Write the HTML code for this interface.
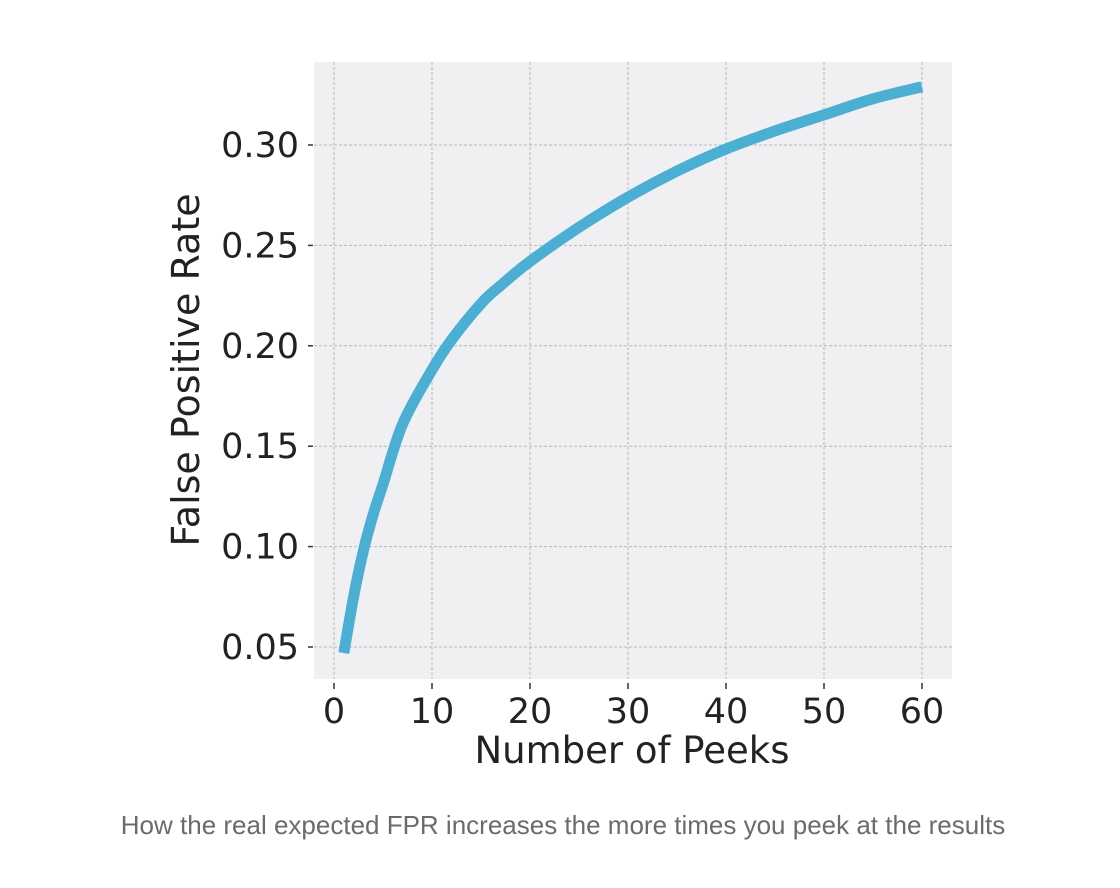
<!DOCTYPE html>
<html><head><meta charset="utf-8"><style>
body{margin:0;background:#fff;width:1120px;height:888px;overflow:hidden}
svg{display:block}
text{font-family:"DejaVu Sans","Liberation Sans",sans-serif;fill:#222}
</style></head><body>
<svg width="1120" height="888">
<rect x="314" y="62" width="638" height="617" fill="#f0f0f3"/>
<g id="grid"></g><g id="axes"></g>
<path id="line" fill="none" stroke="#4aafd2" stroke-width="11" stroke-linecap="butt" stroke-linejoin="round"/>
<text x="632" y="763" text-anchor="middle" font-size="37">Number of Peeks</text>
<text transform="translate(199,370) rotate(-90)" text-anchor="middle" font-size="38">False Positive Rate</text>
<text x="563" y="834" text-anchor="middle" font-size="26" style="font-family:'Liberation Sans',sans-serif;fill:#6b6b6b">How the real expected FPR increases the more times you peek at the results</text>
</svg>
<script>
const peeks=[1,2,3,4,5,7,10,12,15,17,20,25,30,35,40,45,50,55,60];
const fpr=[0.047,0.075,0.098,0.116,0.131,0.161,0.188,0.203,0.221,0.230,0.242,0.259,0.274,0.287,0.298,0.307,0.315,0.323,0.329];
const xTicks=[0,10,20,30,40,50,60];
const yTicks=[0.05,0.10,0.15,0.20,0.25,0.30];
const X=v=>334+v*9.8;
const Y=v=>647-(v-0.05)*2008;
const ns="http://www.w3.org/2000/svg";
const grid=document.getElementById('grid'),axes=document.getElementById('axes');
function mk(p,tag,a){const e=document.createElementNS(ns,tag);for(const k in a)e.setAttribute(k,a[k]);p.appendChild(e);return e;}
xTicks.forEach(t=>{
 const g=mk(grid,'line',{x1:X(t),x2:X(t),y1:62,y2:679,stroke:'#b8b8b8','stroke-width':1,'stroke-dasharray':'3,2'});
 
 
 mk(axes,'line',{x1:X(t),x2:X(t),y1:683,y2:689,stroke:'#333','stroke-width':1.5});
 const l=mk(axes,'text',{x:X(t),y:723,'text-anchor':'middle','font-size':35});l.textContent=t;
 
 
});
yTicks.forEach(t=>{
 const g=mk(grid,'line',{x1:314,x2:952,y1:Y(t),y2:Y(t),stroke:'#b8b8b8','stroke-width':1,'stroke-dasharray':'3,2'});
 
 
 mk(axes,'line',{x1:308,x2:313,y1:Y(t),y2:Y(t),stroke:'#333','stroke-width':1.5});
 const l=mk(axes,'text',{x:299,y:Y(t)+12,'text-anchor':'end','font-size':35});l.textContent=t.toFixed(2);
 
 
});
const P=peeks.map((p,i)=>[X(p),Y(fpr[i])]);
let d='M'+P[0][0]+','+P[0][1];
for(let i=0;i<P.length-1;i++){
 const p0=P[i-1]||P[i],p1=P[i],p2=P[i+1],p3=P[i+2]||p2;
 const c1=[p1[0]+(p2[0]-p0[0])/6,p1[1]+(p2[1]-p0[1])/6];
 const c2=[p2[0]-(p3[0]-p1[0])/6,p2[1]-(p3[1]-p1[1])/6];
 d+='C'+c1+' '+c2+' '+p2;
}
document.getElementById('line').setAttribute('d',d);
</script>
</body></html>
